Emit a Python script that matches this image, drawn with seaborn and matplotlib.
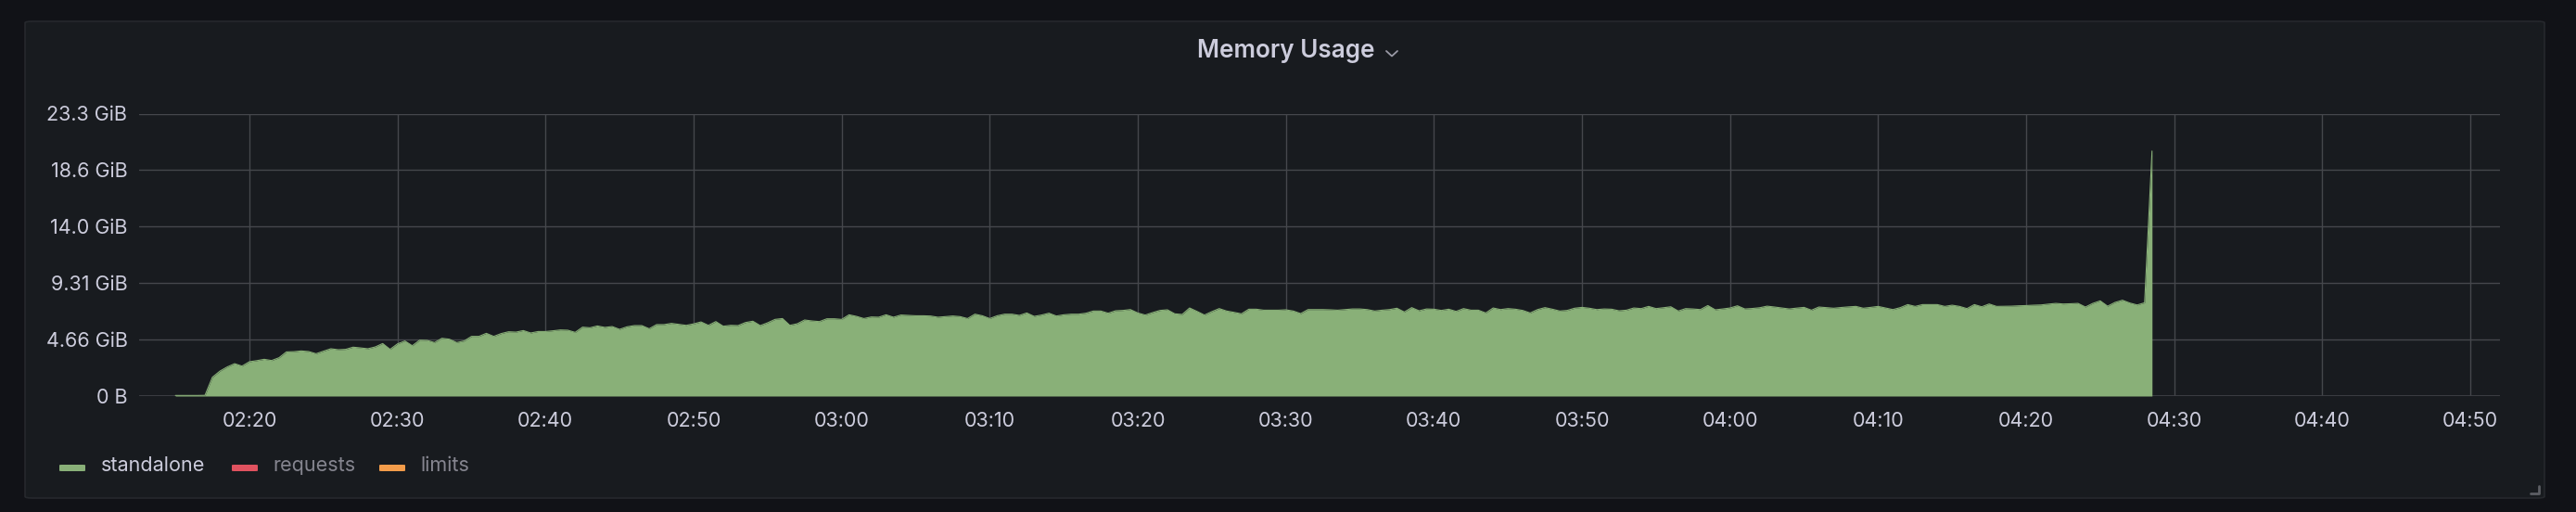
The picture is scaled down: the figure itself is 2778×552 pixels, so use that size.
import numpy as np
import pandas as pd
import matplotlib
matplotlib.use("Agg")
import matplotlib.pyplot as plt
import matplotlib.dates as mdates
from matplotlib.patches import FancyBboxPatch
from matplotlib.lines import Line2D
import seaborn as sns

# memory of the "standalone" container, one sample every 30 s from 02:15:00 (GiB)
start_time = "2023-01-01 02:15:00"
sample_step = "30s"
usage_gib = [
    0.05, 0.05, 0.05, 0.05, 0.06, 1.55, 2.05, 2.40, 2.67, 2.47,
    2.83, 2.92, 3.03, 2.93, 3.16, 3.64, 3.66, 3.72, 3.67, 3.49,
    3.70, 3.90, 3.82, 3.85, 4.03, 3.97, 3.90, 4.05, 4.33, 3.85,
    4.30, 4.54, 4.15, 4.61, 4.59, 4.41, 4.76, 4.69, 4.41, 4.54,
    4.92, 4.92, 5.17, 4.92, 5.15, 5.30, 5.27, 5.40, 5.20, 5.32,
    5.32, 5.38, 5.45, 5.43, 5.25, 5.68, 5.63, 5.78, 5.66, 5.73,
    5.50, 5.71, 5.81, 5.81, 5.55, 5.89, 5.89, 5.99, 5.91, 5.83,
    5.95, 6.11, 5.83, 6.14, 5.76, 5.83, 5.81, 6.06, 6.17, 5.81,
    6.04, 6.32, 6.39, 5.83, 5.96, 6.27, 6.19, 6.14, 6.37, 6.37,
    6.32, 6.70, 6.57, 6.39, 6.52, 6.50, 6.70, 6.50, 6.68, 6.65,
    6.62, 6.62, 6.60, 6.50, 6.55, 6.60, 6.55, 6.39, 6.75, 6.62,
    6.39, 6.62, 6.75, 6.75, 6.65, 6.85, 6.57, 6.68, 6.83, 6.60,
    6.70, 6.75, 6.75, 6.83, 7.01, 7.01, 6.83, 7.03, 7.06, 7.13,
    6.85, 6.68, 6.88, 7.06, 7.11, 6.78, 6.73, 7.26, 6.98, 6.68,
    6.96, 7.21, 7.01, 6.90, 6.78, 7.16, 7.16, 7.08, 7.08, 7.08,
    7.11, 7.01, 6.80, 7.13, 7.13, 7.13, 7.11, 7.08, 7.13, 7.18,
    7.18, 7.13, 7.01, 7.08, 7.13, 7.24, 6.93, 7.29, 7.03, 7.18,
    7.16, 7.06, 7.16, 6.98, 7.21, 7.08, 7.08, 6.85, 7.26, 7.13,
    7.21, 7.16, 7.06, 6.85, 7.13, 7.29, 7.16, 7.01, 7.06, 7.24,
    7.31, 7.24, 7.13, 7.18, 7.16, 7.03, 7.08, 7.26, 7.21, 7.39,
    7.21, 7.28, 7.36, 7.01, 7.21, 7.18, 7.13, 7.46, 7.11, 7.18,
    7.26, 7.44, 7.18, 7.22, 7.28, 7.41, 7.34, 7.26, 7.18, 7.25,
    7.31, 7.08, 7.34, 7.29, 7.24, 7.30, 7.35, 7.39, 7.24, 7.31,
    7.39, 7.26, 7.13, 7.29, 7.54, 7.39, 7.54, 7.54, 7.54, 7.39,
    7.49, 7.39, 7.21, 7.54, 7.36, 7.59, 7.39, 7.40, 7.41, 7.44,
    7.46, 7.49, 7.51, 7.58, 7.64, 7.59, 7.61, 7.64, 7.34, 7.64,
    7.85, 7.41, 7.72, 7.90, 7.67, 7.51, 7.69, 20.2,
]

# axis: 0 .. 25 GB shown in GiB, labelled every 5 GB
y_ticks_gb = [0, 5, 10, 15, 20, 25]
y_tick_labels = ["0 B", "4.66 GiB", "9.31 GiB", "14.0 GiB", "18.6 GiB", "23.3 GiB"]
x_start = "2023-01-01 02:12:33"
x_end = "2023-01-01 04:52:00"

legend_names = ["standalone", "requests", "limits"]
legend_colors = ["#89b078", "#e0525f", "#f39c4a"]

BG = "#111217"
PANEL = "#181b1f"
TEXT = "#ccccdc"
DIM = "#85858f"
GRID = "#45474c"
FILL = "#89b078"

W, H = 2778, 552


def fx(px):
    return px / W


def fy(py):
    # py measured from top
    return 1 - py / H


df = pd.DataFrame({
    "time": pd.date_range(start_time, periods=len(usage_gib), freq=sample_step),
    "gib": usage_gib,
})

sns.set_theme(style="dark")
plt.rcParams["font.family"] = ["Inter", "DejaVu Sans"]

fig = plt.figure(figsize=(W / 100, H / 100), dpi=100, facecolor=BG)

panel = FancyBboxPatch((fx(27), fy(537)), fx(2744) - fx(27), fy(23) - fy(537),
                       boxstyle="round,pad=0,rounding_size=0.003",
                       transform=fig.transFigure, facecolor=PANEL,
                       edgecolor="#26282d", linewidth=1.2, zorder=0)
fig.add_artist(panel)

ax = fig.add_axes([fx(150), fy(427), fx(2696) - fx(150), fy(122.5) - fy(427)])
ax.set_facecolor(PANEL)
ax.patch.set_alpha(0)

ax.fill_between(df["time"], df["gib"], 0, color=FILL, linewidth=0, zorder=3)
sns.lineplot(data=df, x="time", y="gib", ax=ax, color=FILL, linewidth=0.8, zorder=4)

gib_per_gb = 1e9 / 2**30
yt = [v * gib_per_gb for v in y_ticks_gb]
ax.set_ylim(0, yt[-1])
ax.set_yticks(yt)
ax.set_yticklabels(y_tick_labels)
ax.set_xlim(pd.Timestamp(x_start), pd.Timestamp(x_end))
ax.xaxis.set_major_locator(mdates.MinuteLocator(byminute=range(0, 60, 10)))
ax.xaxis.set_major_formatter(mdates.DateFormatter("%H:%M"))

ax.grid(True, color=GRID, linewidth=1.0, zorder=1)
ax.axhline(0, color="#3e4045", linewidth=2.0, zorder=2)
for s in ax.spines.values():
    s.set_visible(False)
ax.tick_params(axis="both", length=0, colors=TEXT, labelsize=15.5)
ax.tick_params(axis="x", pad=12)
ax.tick_params(axis="y", pad=9)
ax.set_xlabel("")
ax.set_ylabel("")

# title with dropdown chevron
fig.text(fx(1386.5), fy(55), "Memory Usage", ha="center", va="center",
         color=TEXT, fontsize=18.8, fontweight="semibold")
fig.add_artist(Line2D([fx(1495), fx(1501), fx(1507)], [fy(55), fy(60.5), fy(55)],
                      transform=fig.transFigure, color="#9a9aa6", linewidth=1.3))

# legend
sw_x = [64, 250, 409]
tx_x = [108.6, 294, 453]
for name, col, sx, tx in zip(legend_names, legend_colors, sw_x, tx_x):
    fig.add_artist(FancyBboxPatch((fx(sx), fy(508)), fx(28), 7 / H,
                                  boxstyle="round,pad=0,rounding_size=0.0009",
                                  transform=fig.transFigure, facecolor=col,
                                  edgecolor="none"))
    fig.text(fx(tx), fy(502), name, ha="left", va="center", fontsize=15.5,
             color=TEXT if name == "standalone" else DIM)

# resize handle in the corner
fig.add_artist(Line2D([fx(2729), fx(2738), fx(2738)], [fy(532), fy(532), fy(524)],
                      transform=fig.transFigure, color="#5c5e64", linewidth=2))

fig.savefig("out.png", dpi=100, facecolor=BG)
